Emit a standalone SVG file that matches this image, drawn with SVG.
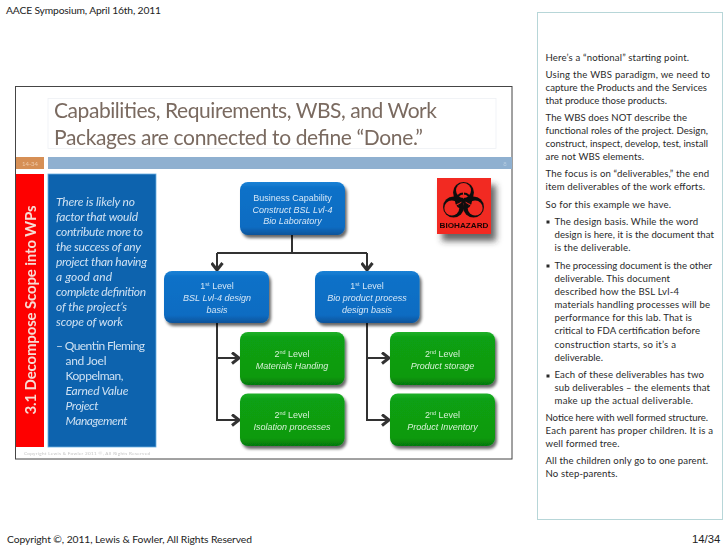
<svg xmlns="http://www.w3.org/2000/svg" width="728" height="549" viewBox="0 0 728 549">
<defs>
<linearGradient id="gb" x1="0" y1="0" x2="0" y2="1"><stop offset="0" stop-color="#1b82d6"/><stop offset="0.12" stop-color="#0b71c8"/><stop offset="0.85" stop-color="#0a6cc2"/><stop offset="1" stop-color="#07539a"/></linearGradient>
<linearGradient id="gg" x1="0" y1="0" x2="0" y2="1"><stop offset="0" stop-color="#1fb02a"/><stop offset="0.12" stop-color="#0aa012"/><stop offset="0.85" stop-color="#089a10"/><stop offset="1" stop-color="#06780c"/></linearGradient>
<filter id="sh" x="-20%" y="-20%" width="150%" height="150%"><feGaussianBlur in="SourceAlpha" stdDeviation="1.8"/><feOffset dx="2" dy="2.5"/><feComponentTransfer><feFuncA type="linear" slope="0.6"/></feComponentTransfer><feMerge><feMergeNode/><feMergeNode in="SourceGraphic"/></feMerge></filter>
<filter id="blur" x="-40%" y="-40%" width="180%" height="180%"><feGaussianBlur stdDeviation="3"/></filter>
<filter id="soft" x="-2%" y="-2%" width="104%" height="104%"><feGaussianBlur stdDeviation="0.35"/></filter>
<marker id="arr" viewBox="0 0 13 13" refX="11.5" refY="6.5" markerWidth="13" markerHeight="13" markerUnits="userSpaceOnUse" orient="auto"><path d="M3.5 1 L10.5 6.5 L3.5 12" fill="none" stroke="#333" stroke-width="3"/></marker>
</defs>
<style>
.h{font-family:"Lato","Open Sans",sans-serif;font-size:10.3px;fill:#222}
.n{font-family:"Lato","Open Sans",sans-serif;font-size:9.6px;fill:#2a2a2a}
.t{font-family:"Lato","Open Sans",sans-serif;font-size:21px;fill:#7a6a60}
.q{font-family:"Lato","Open Sans",sans-serif;font-size:12px;fill:#cfe0f2}
.i{font-style:italic}
.l{font-family:"Liberation Sans",Arial,sans-serif;font-size:9px;text-anchor:middle;fill:#d4e6f6}
.lg{fill:#d6f0d6}
.c{fill:none;stroke:#333;stroke-width:2}
.bn{fill:url(#gb);filter:url(#sh)}
.gn{fill:url(#gg);filter:url(#sh)}
</style>
<rect width="728" height="549" fill="#fff"/>
<text class="h" x="6" y="14" textLength="155" lengthAdjust="spacing">AACE Symposium, April 16th, 2011</text>
<text class="h" x="7" y="543" textLength="245" lengthAdjust="spacing">Copyright ©, 2011, Lewis &amp; Fowler, All Rights Reserved</text>
<text x="692" y="543" font-family="Liberation Sans, Arial, sans-serif" font-size="11.3" fill="#222">14/34</text>

<g id="slide" filter="url(#soft)">
<rect x="15.5" y="86.5" width="496.5" height="372.5" fill="#fff" stroke="#444" stroke-width="1"/>
<rect x="48" y="98.5" width="448" height="50" fill="#fff" stroke="#eef1f4" stroke-width="0.8"/>
<text class="t" x="54" y="118" textLength="383" lengthAdjust="spacing">Capabilities, Requirements, WBS, and Work</text>
<text class="t" x="54" y="145" textLength="369" lengthAdjust="spacing">Packages are connected to define “Done.”</text>
<rect x="16" y="157" width="28" height="12" fill="#d68f55"/>
<text x="30" y="166" font-family="Lato, sans-serif" font-size="6" text-anchor="middle" fill="#eec9a8">14-34</text>
<rect x="48" y="157" width="464" height="12" fill="#8fb0d0"/>
<text x="505" y="166" font-family="Lato, sans-serif" font-size="6" text-anchor="middle" fill="#b5cbe0">8</text>
<rect x="16" y="174" width="28" height="273" fill="#fe0000"/>
<text transform="translate(36 414.5) rotate(-90)" font-family="Lato, 'Open Sans', sans-serif" font-size="15" font-weight="700" fill="#f6dcd4" textLength="209" lengthAdjust="spacing">3.1 Decompose Scope into WPs</text>
<rect x="48" y="174" width="108" height="273" fill="#0a63ae" stroke="#6aaee0" stroke-width="0.8"/>
<g class="q">
<text class="q i" x="56" y="206" textLength="79" lengthAdjust="spacing">There is likely no</text>
<text class="q i" x="56" y="221" textLength="82" lengthAdjust="spacing">factor that would</text>
<text class="q i" x="56" y="236" textLength="87" lengthAdjust="spacing">contribute more to</text>
<text class="q i" x="56" y="251" textLength="85" lengthAdjust="spacing">the success of any</text>
<text class="q i" x="56" y="266" textLength="91" lengthAdjust="spacing">project than having</text>
<text class="q i" x="56" y="281" textLength="56" lengthAdjust="spacing">a good and</text>
<text class="q i" x="56" y="296" textLength="90" lengthAdjust="spacing">complete definition</text>
<text class="q i" x="56" y="311" textLength="71" lengthAdjust="spacing">of the project’s</text>
<text class="q i" x="56" y="326" textLength="67" lengthAdjust="spacing">scope of work</text>
<text class="q" x="56" y="350" textLength="89" lengthAdjust="spacing">– Quentin Fleming</text>
<text class="q" x="65.5" y="365" textLength="41" lengthAdjust="spacing">and Joel</text>
<text class="q" x="65.5" y="380" textLength="58" lengthAdjust="spacing">Koppelman,</text>
<text class="q i" x="65.5" y="395" textLength="63" lengthAdjust="spacing">Earned Value</text>
<text class="q i" x="65.5" y="410" textLength="33" lengthAdjust="spacing">Project</text>
<text class="q i" x="65.5" y="425" textLength="62" lengthAdjust="spacing">Management</text>
</g>
<text x="24" y="454.5" font-family="Lato, sans-serif" font-size="4.6" fill="#c4c4c4" textLength="126" lengthAdjust="spacing">Copyright Lewis &amp; Fowler 2011 ©, All Rights Reserved</text>

<g id="connectors">
<path class="c" d="M292 235V253"/>
<path class="c" d="M217 253H367"/>
<path class="c" d="M217 253V271" marker-end="url(#arr)"/>
<path class="c" d="M367 253V271" marker-end="url(#arr)"/>
<path class="c" d="M217 323V420H240" marker-end="url(#arr)"/>
<path class="c" d="M217 358H240" marker-end="url(#arr)"/>
<path class="c" d="M367 323V420H390" marker-end="url(#arr)"/>
<path class="c" d="M367 358H390" marker-end="url(#arr)"/>
</g>

<g id="node-business">
<rect class="bn" x="240" y="182" width="105" height="53" rx="8"/>
<text class="l" x="292.5" y="201">Business Capability</text>
<text class="l i" x="292.5" y="212.5">Construct BSL Lvl-4</text>
<text class="l i" x="292.5" y="224">Bio Laboratory</text>
</g>
<g id="node-l1-left">
<rect class="bn" x="164" y="271" width="105" height="52" rx="8"/>
<text class="l" x="217" y="289">1<tspan font-size="5.5" dy="-3">st</tspan><tspan dy="3"> Level</tspan></text>
<text class="l i" x="217" y="301">BSL Lvl-4 design</text>
<text class="l i" x="217" y="312.5">basis</text>
</g>
<g id="node-l1-right">
<rect class="bn" x="315" y="271" width="104.5" height="52" rx="8"/>
<text class="l" x="367" y="289">1<tspan font-size="5.5" dy="-3">st</tspan><tspan dy="3"> Level</tspan></text>
<text class="l i" x="367" y="301">Bio product process</text>
<text class="l i" x="367" y="312.5">design basis</text>
</g>
<g id="node-materials">
<rect class="gn" x="240" y="332" width="104.5" height="53" rx="8"/>
<text class="l lg" x="292" y="357">2<tspan font-size="5.5" dy="-3">nd</tspan><tspan dy="3"> Level</tspan></text>
<text class="l lg i" x="292" y="368.5">Materials Handing</text>
</g>
<g id="node-isolation">
<rect class="gn" x="240" y="393.5" width="104.5" height="52.5" rx="8"/>
<text class="l lg" x="292" y="418">2<tspan font-size="5.5" dy="-3">nd</tspan><tspan dy="3"> Level</tspan></text>
<text class="l lg i" x="292" y="429.5">Isolation processes</text>
</g>
<g id="node-storage">
<rect class="gn" x="390" y="332" width="105" height="53" rx="8"/>
<text class="l lg" x="442.5" y="357">2<tspan font-size="5.5" dy="-3">nd</tspan><tspan dy="3"> Level</tspan></text>
<text class="l lg i" x="442.5" y="368.5">Product storage</text>
</g>
<g id="node-inventory">
<rect class="gn" x="390" y="393.5" width="105" height="52.5" rx="8"/>
<text class="l lg" x="442.5" y="418">2<tspan font-size="5.5" dy="-3">nd</tspan><tspan dy="3"> Level</tspan></text>
<text class="l lg i" x="442.5" y="429.5">Product Inventory</text>
</g>

<g id="biohazard">
<rect x="442" y="185" width="54" height="56" fill="#333" fill-opacity="0.75" filter="url(#blur)"/>
<rect x="437" y="178" width="54" height="56" fill="#f22a20"/>
<circle cx="463.5" cy="192.5" r="10.5" fill="#111"/>
<circle cx="463.5" cy="190.5" r="7.5" fill="#f22a20"/>
<circle cx="453.5" cy="207" r="10.5" fill="#111"/>
<circle cx="451.8" cy="208" r="7.5" fill="#f22a20"/>
<circle cx="473.5" cy="207" r="10.5" fill="#111"/>
<circle cx="475.2" cy="208" r="7.5" fill="#f22a20"/>
<circle cx="463.5" cy="201" r="7.5" fill="none" stroke="#111" stroke-width="2"/>
<circle cx="463.5" cy="201" r="2.4" fill="#111"/>
<path d="M463.5 192V198.5M455.5 205.5L461.3 202.3M471.5 205.5L465.7 202.3" stroke="#f22a20" stroke-width="1" fill="none"/>
<text x="464" y="227.5" font-family="Liberation Sans, Arial, sans-serif" font-weight="700" font-size="7.5" text-anchor="middle" fill="#1a0505" textLength="49" lengthAdjust="spacingAndGlyphs">BIOHAZARD</text>
</g>
</g>

<g id="notes">
<rect x="537.5" y="12.5" width="185" height="507" fill="#fff" stroke="#b7d6d8" stroke-width="1"/>
<text class="n" x="545.5" y="61" textLength="143.5" lengthAdjust="spacing">Here’s a “notional” starting point.</text>
<text class="n" x="545.5" y="78" textLength="164.5" lengthAdjust="spacing">Using the WBS paradigm, we need to</text>
<text class="n" x="545.5" y="91" textLength="161.5" lengthAdjust="spacing">capture the Products and the Services</text>
<text class="n" x="545.5" y="104" textLength="121.5" lengthAdjust="spacing">that produce those products.</text>
<text class="n" x="545.5" y="121" textLength="141.5" lengthAdjust="spacing">The WBS does NOT describe the</text>
<text class="n" x="545.5" y="134" textLength="162.5" lengthAdjust="spacing">functional roles of the project. Design,</text>
<text class="n" x="545.5" y="147" textLength="162.5" lengthAdjust="spacing">construct, inspect, develop, test, install</text>
<text class="n" x="545.5" y="160" textLength="98.5" lengthAdjust="spacing">are not WBS elements.</text>
<text class="n" x="545.5" y="177" textLength="163.5" lengthAdjust="spacing">The focus is on “deliverables,” the end</text>
<text class="n" x="545.5" y="190" textLength="159.5" lengthAdjust="spacing">item deliverables of the work efforts.</text>
<text class="n" x="545.5" y="208" textLength="125.5" lengthAdjust="spacing">So for this example we have.</text>
<rect x="546.5" y="220.5" width="3" height="3" fill="#2a2a2a"/>
<text class="n" x="554.5" y="225" textLength="143.5" lengthAdjust="spacing">The design basis. While the word</text>
<text class="n" x="554.5" y="238" textLength="159.5" lengthAdjust="spacing">design is here, it is the document that</text>
<text class="n" x="554.5" y="251" textLength="76" lengthAdjust="spacing">is the deliverable.</text>
<rect x="546.5" y="264.5" width="3" height="3" fill="#2a2a2a"/>
<text class="n" x="554.5" y="269" textLength="157.5" lengthAdjust="spacing">The processing document is the other</text>
<text class="n" x="554.5" y="282" textLength="115.5" lengthAdjust="spacing">deliverable. This document</text>
<text class="n" x="554.5" y="295" textLength="124.5" lengthAdjust="spacing">described how the BSL Lvl-4</text>
<text class="n" x="554.5" y="308" textLength="155.5" lengthAdjust="spacing">materials handling processes will be</text>
<text class="n" x="554.5" y="321" textLength="137.5" lengthAdjust="spacing">performance for this lab. That is</text>
<text class="n" x="554.5" y="334" textLength="145.5" lengthAdjust="spacing">critical to FDA certification before</text>
<text class="n" x="554.5" y="348" textLength="121.5" lengthAdjust="spacing">construction starts, so it’s a</text>
<text class="n" x="554.5" y="361" textLength="48.5" lengthAdjust="spacing">deliverable.</text>
<rect x="546.5" y="374.5" width="3" height="3" fill="#2a2a2a"/>
<text class="n" x="554.5" y="378" textLength="149.5" lengthAdjust="spacing">Each of these deliverables has two</text>
<text class="n" x="554.5" y="391" textLength="155.5" lengthAdjust="spacing">sub deliverables – the elements that</text>
<text class="n" x="554.5" y="404" textLength="138.5" lengthAdjust="spacing">make up the actual deliverable.</text>
<text class="n" x="545.5" y="421" textLength="162.5" lengthAdjust="spacing">Notice here with well formed structure.</text>
<text class="n" x="545.5" y="434" textLength="167.5" lengthAdjust="spacing">Each parent has proper children. It is a</text>
<text class="n" x="545.5" y="447" textLength="74" lengthAdjust="spacing">well formed tree.</text>
<text class="n" x="545.5" y="464" textLength="162.5" lengthAdjust="spacing">All the children only go to one parent.</text>
<text class="n" x="545.5" y="477" textLength="72" lengthAdjust="spacing">No step-parents.</text>
</g>
</svg>
